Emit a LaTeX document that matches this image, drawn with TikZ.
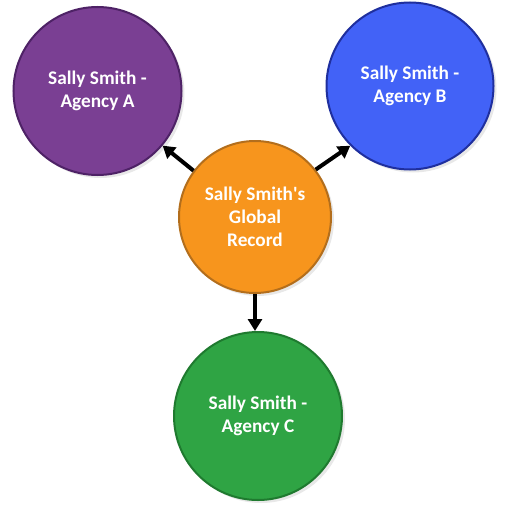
\documentclass[tikz,border=0pt]{standalone}
\usepackage{fontspec}
\setmainfont{Carlito}[Ligatures=TeXOff]
\usetikzlibrary{shadows,arrows.meta}
\definecolor{pfill}{HTML}{7A3F93}
\definecolor{pdraw}{HTML}{4E2266}
\definecolor{bfill}{HTML}{4262F7}
\definecolor{bdraw}{HTML}{1F2F9E}
\definecolor{ofill}{HTML}{F7951D}
\definecolor{odraw}{HTML}{B36E1C}
\definecolor{gfill}{HTML}{2FA444}
\definecolor{gdraw}{HTML}{1F7A2F}
\tikzset{
  rec/.style={circle, line width=2pt, minimum size=#1, inner sep=0pt, align=center,
    text=white, font=\fontsize{19.3}{23}\selectfont\bfseries,
    drop shadow={shadow xshift=3pt, shadow yshift=-3pt, opacity=0.18}},
  link/.style={line width=4pt, -{Triangle[length=12pt,width=14pt]}}
}
\begin{document}
\begin{tikzpicture}[x=1pt,y=-1pt]
\useasboundingbox (0,0) rectangle (504,511);
\node[rec=168pt, fill=pfill, draw=pdraw] (a) at (97.5,91) {Sally Smith -\\Agency A};
\node[rec=167pt, fill=bfill, draw=bdraw] (b) at (410,86) {Sally Smith -\\Agency B};
\node[rec=152pt, fill=ofill, draw=odraw] (g) at (255,217) {Sally Smith's\\Global\\Record};
\node[rec=168pt, fill=gfill, draw=gdraw] (c) at (258,416) {Sally Smith -\\Agency C};
\draw[link] (g.143) -- (a.-40);
\draw[link] (g.38) -- (b.-135);
\draw[link] (g.south) -- (g.south |- c.north);
\end{tikzpicture}
\end{document}
